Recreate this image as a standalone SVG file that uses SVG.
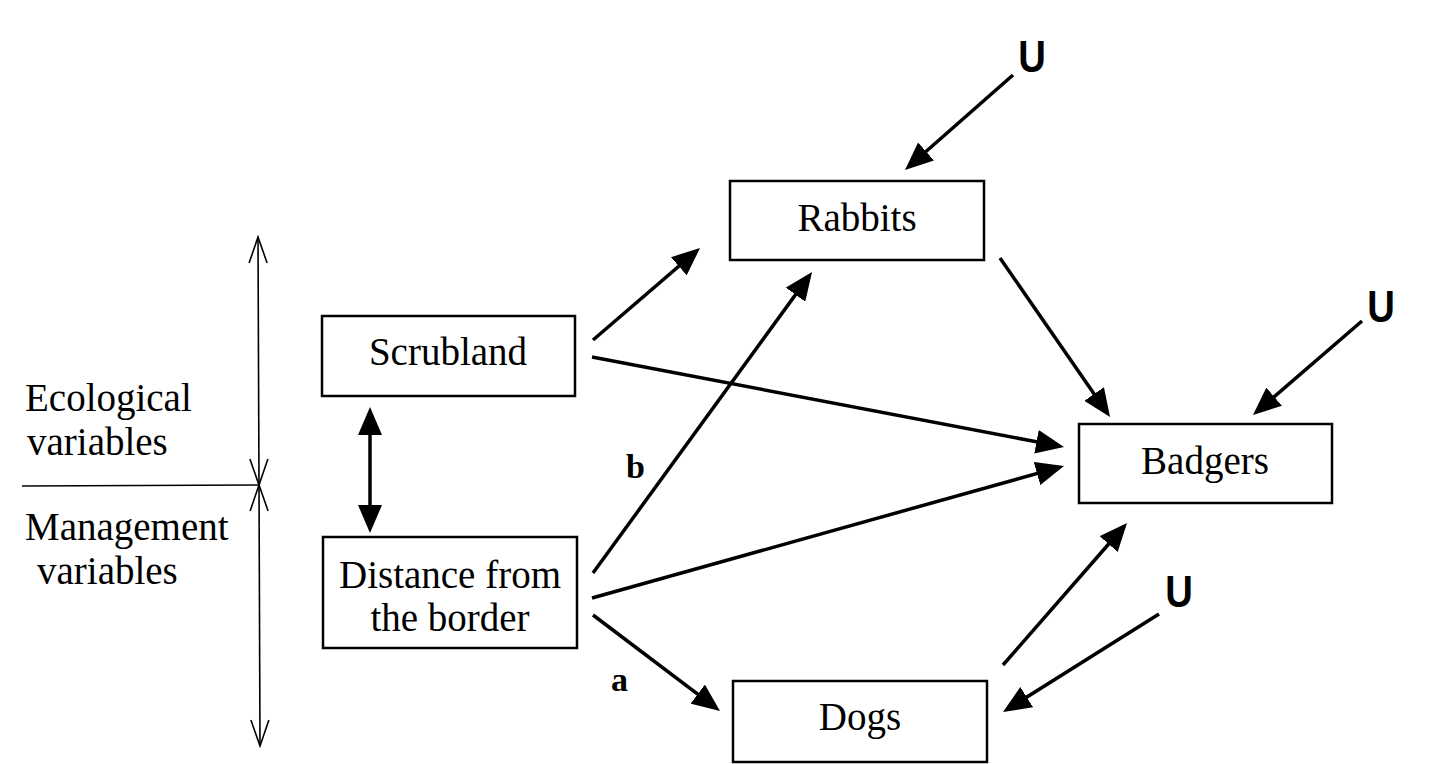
<svg xmlns="http://www.w3.org/2000/svg" width="1434" height="764" viewBox="0 0 1434 764">
<defs>
<style>
.box{fill:#fff;stroke:#000;stroke-width:2.5}
.lbl{font-family:"Liberation Serif","Times New Roman",serif;font-size:39px;fill:#000}
.side{font-family:"Liberation Serif","Times New Roman",serif;font-size:39px;fill:#000}
.let{font-family:"Liberation Serif","Times New Roman",serif;font-size:34px;font-weight:bold;fill:#000}
.u{font-family:"Liberation Sans",Arial,sans-serif;font-size:45px;font-weight:bold;fill:#000}
.c{stroke:#000;stroke-width:3.5;fill:none;marker-end:url(#ah)}
.ax{stroke:#000;stroke-width:1.6;fill:none}
</style>
<marker id="ah" markerUnits="userSpaceOnUse" viewBox="0 0 28 24" refX="22" refY="12" markerWidth="28" markerHeight="24" orient="auto-start-reverse">
<path d="M0,0 L28,12 L0,24 Z" fill="#000"/>
</marker>
<marker id="oh" markerUnits="userSpaceOnUse" viewBox="-1 -1 29 21" refX="26" refY="9" markerWidth="29" markerHeight="21" orient="auto-start-reverse">
<path d="M0,0 L26,9 L0,18" fill="none" stroke="#000" stroke-width="1.6"/>
</marker>
</defs>
<rect width="1434" height="764" fill="#fff"/>

<g id="axis">
<line class="ax" x1="258" y1="237" x2="259" y2="485" marker-start="url(#oh)" marker-end="url(#oh)"/>
<line class="ax" x1="259" y1="485" x2="260" y2="746" marker-start="url(#oh)" marker-end="url(#oh)"/>
<line class="ax" x1="22" y1="486" x2="259" y2="485"/>
<text class="side" x="25" y="411">Ecological</text>
<text class="side" x="27" y="455">variables</text>
<text class="side" x="25" y="540">Management</text>
<text class="side" x="37" y="584">variables</text>
</g>

<g id="connectors">
<line class="c" x1="593" y1="340" x2="695.5" y2="251.9"/>
<line class="c" x1="592" y1="357" x2="1058.1" y2="445.9"/>
<line class="c" x1="593" y1="573" x2="808.5" y2="276.9"/>
<line class="c" x1="592" y1="598" x2="1058.2" y2="467.6"/>
<line class="c" x1="593" y1="615" x2="715.2" y2="707.4"/>
<line class="c" x1="1000" y1="258" x2="1106.6" y2="412.1"/>
<line class="c" x1="1362" y1="321" x2="1257.5" y2="411.1"/>
<line class="c" x1="1013" y1="75" x2="909.5" y2="166"/>
<line class="c" x1="1003" y1="665" x2="1123.1" y2="527.5"/>
<line class="c" x1="1159" y1="614" x2="1008.1" y2="708.8"/>
<line class="c" x1="370" y1="413" x2="370" y2="527" marker-start="url(#ah)"/>
<text class="let" x="626" y="478">b</text>
<text class="let" x="611" y="691">a</text>
<text class="u" text-anchor="middle" transform="translate(1032,72) scale(0.85,1)">U</text>
<text class="u" text-anchor="middle" transform="translate(1381,322) scale(0.85,1)">U</text>
<text class="u" text-anchor="middle" transform="translate(1179,607) scale(0.85,1)">U</text>
</g>

<g id="rabbits">
<rect class="box" x="730" y="181" width="254" height="79"/>
<text class="lbl" x="857" y="231" text-anchor="middle">Rabbits</text>
</g>
<g id="scrubland">
<rect class="box" x="322" y="316" width="253" height="80"/>
<text class="lbl" x="448" y="365" text-anchor="middle">Scrubland</text>
</g>
<g id="distance">
<rect class="box" x="323" y="537" width="254" height="111"/>
<text class="lbl" x="450" y="588" text-anchor="middle">Distance from</text>
<text class="lbl" x="450" y="631" text-anchor="middle">the border</text>
</g>
<g id="badgers">
<rect class="box" x="1079" y="424" width="253" height="79"/>
<text class="lbl" x="1205" y="474" text-anchor="middle">Badgers</text>
</g>
<g id="dogs">
<rect class="box" x="733" y="681" width="254" height="81"/>
<text class="lbl" x="860" y="730" text-anchor="middle">Dogs</text>
</g>
</svg>
